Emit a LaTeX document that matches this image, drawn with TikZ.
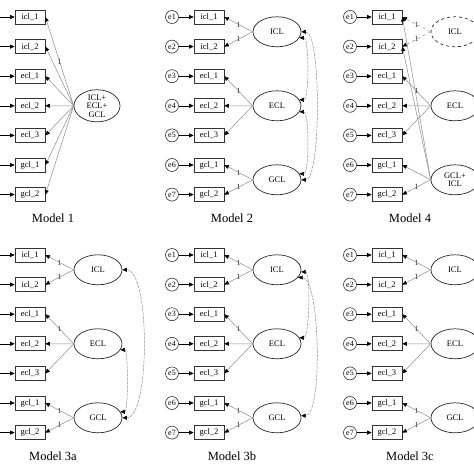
\documentclass[tikz,border=0pt]{standalone}
\usepackage{fontspec}
\setmainfont{Liberation Serif}
\usetikzlibrary{shapes,arrows.meta,positioning,calc}

\tikzset{
  obs/.style={draw=black!80, line width=0.7pt, minimum width=30pt, minimum height=14pt, inner sep=0pt, font=\fontsize{8.5}{9}\selectfont},
  err/.style={draw=black!80, circle, line width=0.6pt, minimum size=13pt, inner sep=0pt, font=\fontsize{8}{9}\selectfont},
  errcut/.style={coordinate},
  lat/.style={draw=black!85, ellipse, line width=0.7pt, minimum width=48pt, minimum height=30pt, inner sep=0pt, align=center, font=\fontsize{8.5}{8.5}\selectfont},
  load/.style={draw=black!45, line width=0.5pt, -{Triangle[length=4.5pt,width=4pt,color=black]}},
  cov/.style={draw=black!45, line width=0.5pt, dash pattern=on 3pt off 1pt, {Triangle[length=4.5pt,width=4pt,color=black]}-{Triangle[length=4.5pt,width=4pt,color=black]}},
  one/.style={pos=0.5, inner sep=0.5pt, text=black!80, font=\fontsize{8}{8}\selectfont}
}

\begin{document}
\begin{tikzpicture}[x=1pt, y=-1pt, >={Triangle[length=4.5pt,width=4pt]}]
    \clip (0,0) rectangle (474,474);
    % indicators, errors and captions
    \foreach \p/\x/\y/\n/\s in {m1/30/17/1/errcut, m2/209/17/2/err, m4/387/17/4/err, m3a/30/255/3a/errcut, m3b/209/255/3b/err, m3c/387/255/3c/err} {
        \foreach \i/\t in {1/icl\_1, 2/icl\_2, 3/ecl\_1, 4/ecl\_2, 5/ecl\_3, 6/gcl\_1, 7/gcl\_2} {
            \node[obs] (\p o\i) at (\x, \y+29.6*\i-29.6) {\t};
            \node[\s] (\p e\i) at (\x-37, \y+29.6*\i-29.6) {e\i};
            \draw[->, line width=0.6pt] (\p e\i) -- (\p o\i);
        }
        \node[font=\fontsize{12.5}{13}\selectfont] (\p cap) at (\x+23, \y+201) {Model \n};
    }

    % Model 1
    \node[lat, minimum width=46pt] (m1L) at (97,105.8) {ICL+\\ECL+\\GCL};
    \draw[load] (m1L.west) -- node[one] {1} (m1o1.east);
    \foreach \i in {2,...,7}
        \draw[load] (m1L.west) -- (m1o\i.east);

    % three factor models
    \foreach \p/\x/\y in {m2/277/17, m3a/98/255, m3b/277/255, m3c/455/255} {
        \node[lat] (\p ICL) at (\x, \y+14.8) {ICL};
        \node[lat] (\p ECL) at (\x, \y+88.8) {ECL};
        \node[lat] (\p GCL) at (\x, \y+162.8) {GCL};
        \draw[load] (\p ICL.west) -- node[one] {1} (\p o1.east);
        \draw[load] (\p ICL.west) -- node[one] {1} (\p o2.east);
        \draw[load] (\p ECL.west) -- node[one] {1} (\p o3.east);
        \draw[load] (\p ECL.west) -- (\p o4.east);
        \draw[load] (\p ECL.west) -- (\p o5.east);
        \draw[load] (\p GCL.west) -- node[one] {1} (\p o6.east);
        \draw[load] (\p GCL.west) -- node[one] {1} (\p o7.east);
    }

    % covariances
    \draw[cov] (m2ICL.-15) .. controls +(10,0) and +(10,0) .. (m2ECL.15);
    \draw[cov] (m2ECL.-15) .. controls +(10,0) and +(10,0) .. (m2GCL.15);
    \draw[cov] (m2ICL.east) .. controls +(20,0) and +(20,0) .. (m2GCL.east);
    \draw[cov] (m3aECL.-15) .. controls +(8,0) and +(8,0) .. (m3aGCL.15);
    \draw[cov] (m3aICL.east) .. controls +(28,0) and +(28,0) .. (m3aGCL.east);
    \draw[cov] (m3bICL.-5) .. controls +(10,0) and +(10,0) .. (m3bECL.15);
    \draw[cov] (m3bICL.-20) .. controls +(22,0) and +(22,0) .. (m3bGCL.5);

    % Model 4
    \node[lat, dashed] (m4ICL) at (455,31.8) {ICL};
    \node[lat] (m4ECL) at (455,105.8) {ECL};
    \node[lat] (m4GCL) at (455,179.8) {GCL+\\ICL};
    \draw[load, dashed] (m4ICL.west) -- node[one] {1} (m4o1.east);
    \draw[load, dashed] (m4ICL.west) -- node[one] {1} (m4o2.east);
    \draw[load] (m4ECL.west) -- node[one] {1} (m4o3.east);
    \draw[load] (m4ECL.west) -- (m4o4.east);
    \draw[load] (m4ECL.west) -- (m4o5.east);
    \draw[load] (m4GCL.west) -- (m4o6.east);
    \draw[load] (m4GCL.west) -- node[one] {1} (m4o7.east);
    \draw[load] (m4GCL.west) -- (m4o1.east);
    \draw[load] (m4GCL.west) -- (m4o2.east);
\end{tikzpicture}
\end{document}
